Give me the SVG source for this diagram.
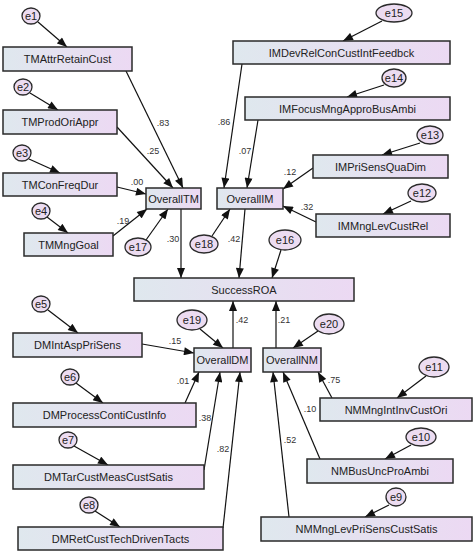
<svg xmlns="http://www.w3.org/2000/svg" width="474" height="553" viewBox="0 0 474 553">
<defs>
<linearGradient id="g" x1="0" y1="0" x2="1" y2="0">
<stop offset="0" stop-color="#dfe8ee"/>
<stop offset="1" stop-color="#ecd9f3"/>
</linearGradient>
<marker id="ah" viewBox="0 0 10 8" refX="10" refY="4" markerWidth="11" markerHeight="8" markerUnits="userSpaceOnUse" orient="auto">
<path d="M0,0 L10,4 L0,8 Z" fill="#111"/>
</marker>
<style>
.b{fill:url(#g);stroke:#2a2a2a;stroke-width:1.5}
.e{fill:#ecdcf1;stroke:#2a2a2a;stroke-width:1.3}
.t{font-family:"Liberation Sans",Arial,sans-serif;font-size:11px;fill:#222;text-anchor:middle;dominant-baseline:central}
.c{font-family:"Liberation Sans",Arial,sans-serif;font-size:9px;fill:#333;text-anchor:middle;dominant-baseline:central}
.l{stroke:#111;stroke-width:1.2;fill:none;marker-end:url(#ah)}
</style>
</defs>
<rect width="474" height="553" fill="#fff"/>

<g id="connectors">
<line class="l" x1="38" y1="22" x2="67" y2="47"/>
<line class="l" x1="30" y1="93" x2="58" y2="110"/>
<line class="l" x1="29" y1="159" x2="60" y2="173"/>
<line class="l" x1="47" y1="217" x2="68" y2="233"/>
<line class="l" x1="48" y1="310" x2="78" y2="333"/>
<line class="l" x1="76" y1="383" x2="103" y2="403"/>
<line class="l" x1="74" y1="446" x2="108" y2="465"/>
<line class="l" x1="95" y1="511" x2="120" y2="527"/>
<line class="l" x1="389" y1="505" x2="365" y2="517"/>
<line class="l" x1="411" y1="445" x2="385" y2="459"/>
<line class="l" x1="426" y1="376" x2="397" y2="398"/>
<line class="l" x1="411" y1="201" x2="383" y2="214"/>
<line class="l" x1="420" y1="143" x2="382" y2="155"/>
<line class="l" x1="384" y1="85" x2="347" y2="97"/>
<line class="l" x1="382" y1="21" x2="343" y2="41"/>
<line class="l" x1="281" y1="250" x2="272" y2="278"/>
<line class="l" x1="146" y1="240" x2="168" y2="209"/>
<line class="l" x1="212" y1="236" x2="230" y2="209"/>
<line class="l" x1="200" y1="329" x2="223" y2="348"/>
<line class="l" x1="318" y1="331" x2="293" y2="348"/>

<line class="l" x1="126" y1="71" x2="183" y2="188"/>
<line class="l" x1="117" y1="127" x2="173" y2="188"/>
<line class="l" x1="117" y1="187" x2="146" y2="194"/>
<line class="l" x1="113" y1="236" x2="147" y2="209"/>
<line class="l" x1="242" y1="64" x2="224" y2="188"/>
<line class="l" x1="258" y1="120" x2="247" y2="188"/>
<line class="l" x1="313" y1="168" x2="283" y2="189"/>
<line class="l" x1="316" y1="222" x2="283" y2="206"/>
<line class="l" x1="181" y1="209" x2="181" y2="278"/>
<line class="l" x1="245" y1="209" x2="239" y2="278"/>
<line class="l" x1="233" y1="348" x2="233" y2="301"/>
<line class="l" x1="276" y1="348" x2="276" y2="301"/>
<line class="l" x1="142" y1="344" x2="194" y2="353"/>
<line class="l" x1="185" y1="403" x2="199" y2="372"/>
<line class="l" x1="204" y1="470" x2="220" y2="372"/>
<line class="l" x1="223" y1="528" x2="240" y2="372"/>
<line class="l" x1="289" y1="517" x2="273" y2="372"/>
<line class="l" x1="320" y1="459" x2="283" y2="372"/>
<line class="l" x1="332" y1="398" x2="318" y2="372"/>

<text class="c" x="163" y="123">.83</text>
<text class="c" x="224" y="122">.86</text>
<text class="c" x="153" y="151">.25</text>
<text class="c" x="137" y="182">.00</text>
<text class="c" x="123" y="221">.19</text>
<text class="c" x="173" y="239">.30</text>
<text class="c" x="234" y="239">.42</text>
<text class="c" x="245" y="151">.07</text>
<text class="c" x="290" y="172">.12</text>
<text class="c" x="307" y="207">.32</text>
<text class="c" x="175" y="341">.15</text>
<text class="c" x="183" y="381">.01</text>
<text class="c" x="242" y="320">.42</text>
<text class="c" x="284" y="320">.21</text>
<text class="c" x="334" y="380">.75</text>
<text class="c" x="205" y="418">.38</text>
<text class="c" x="223" y="449">.82</text>
<text class="c" x="290" y="440">.52</text>
<text class="c" x="310" y="409">.10</text>
</g>

<g id="TMAttrRetainCust"><rect class="b" x="3" y="47" width="129" height="24"/><text class="t" x="67.5" y="59">TMAttrRetainCust</text></g>
<g id="TMProdOriAppr"><rect class="b" x="3" y="110" width="114" height="24"/><text class="t" x="60" y="122">TMProdOriAppr</text></g>
<g id="TMConFreqDur"><rect class="b" x="3" y="173" width="114" height="23"/><text class="t" x="60" y="184.5">TMConFreqDur</text></g>
<g id="TMMngGoal"><rect class="b" x="24" y="233" width="89" height="23"/><text class="t" x="68.5" y="244.5">TMMngGoal</text></g>
<g id="OverallTM"><rect class="b" x="146" y="188" width="55" height="21"/><text class="t" x="173.5" y="198.5">OverallTM</text></g>
<g id="OverallIM"><rect class="b" x="217" y="188" width="66" height="21"/><text class="t" x="250" y="198.5">OverallIM</text></g>
<g id="IMDevRelConCustIntFeedbck"><rect class="b" x="233" y="41" width="217" height="23"/><text class="t" x="341.5" y="52.5">IMDevRelConCustIntFeedbck</text></g>
<g id="IMFocusMngApproBusAmbi"><rect class="b" x="245" y="97" width="205" height="23"/><text class="t" x="347.5" y="108.5">IMFocusMngApproBusAmbi</text></g>
<g id="IMPriSensQuaDim"><rect class="b" x="313" y="155" width="135" height="23"/><text class="t" x="380.5" y="166.5">IMPriSensQuaDim</text></g>
<g id="IMMngLevCustRel"><rect class="b" x="316" y="214" width="134" height="23"/><text class="t" x="383" y="225.5">IMMngLevCustRel</text></g>
<g id="SuccessROA"><rect class="b" x="134" y="278" width="220" height="23"/><text class="t" x="244" y="289.5">SuccessROA</text></g>
<g id="DMIntAspPriSens"><rect class="b" x="13" y="333" width="129" height="24"/><text class="t" x="77.5" y="345">DMIntAspPriSens</text></g>
<g id="DMProcessContiCustInfo"><rect class="b" x="13" y="403" width="183" height="24"/><text class="t" x="104.5" y="415">DMProcessContiCustInfo</text></g>
<g id="DMTarCustMeasCustSatis"><rect class="b" x="13" y="465" width="191" height="24"/><text class="t" x="108.5" y="477">DMTarCustMeasCustSatis</text></g>
<g id="DMRetCustTechDrivenTacts"><rect class="b" x="18" y="527" width="205" height="23"/><text class="t" x="120.5" y="538.5">DMRetCustTechDrivenTacts</text></g>
<g id="OverallDM"><rect class="b" x="194" y="348" width="57" height="24"/><text class="t" x="222.5" y="360">OverallDM</text></g>
<g id="OverallNM"><rect class="b" x="263" y="348" width="58" height="24"/><text class="t" x="292" y="360">OverallNM</text></g>
<g id="NMMngIntInvCustOri"><rect class="b" x="320" y="398" width="152" height="23"/><text class="t" x="396" y="409.5">NMMngIntInvCustOri</text></g>
<g id="NMBusUncProAmbi"><rect class="b" x="307" y="459" width="146" height="24"/><text class="t" x="380" y="471">NMBusUncProAmbi</text></g>
<g id="NMMngLevPriSensCustSatis"><rect class="b" x="261" y="517" width="211" height="24"/><text class="t" x="366.5" y="529">NMMngLevPriSensCustSatis</text></g>

<g id="e1"><ellipse class="e" cx="31" cy="16" rx="9" ry="8"/><text class="t" x="31" y="16">e1</text></g>
<g id="e2"><ellipse class="e" cx="23" cy="87" rx="9" ry="8"/><text class="t" x="23" y="87">e2</text></g>
<g id="e3"><ellipse class="e" cx="22" cy="153" rx="9" ry="8"/><text class="t" x="22" y="153">e3</text></g>
<g id="e4"><ellipse class="e" cx="41" cy="211" rx="9" ry="8"/><text class="t" x="41" y="211">e4</text></g>
<g id="e5"><ellipse class="e" cx="41" cy="304" rx="9" ry="8"/><text class="t" x="41" y="304">e5</text></g>
<g id="e6"><ellipse class="e" cx="70" cy="377" rx="9" ry="8"/><text class="t" x="70" y="377">e6</text></g>
<g id="e7"><ellipse class="e" cx="68" cy="440" rx="9" ry="8"/><text class="t" x="68" y="440">e7</text></g>
<g id="e8"><ellipse class="e" cx="89" cy="505" rx="9" ry="8"/><text class="t" x="89" y="505">e8</text></g>
<g id="e9"><ellipse class="e" cx="396" cy="497" rx="10" ry="9"/><text class="t" x="396" y="497">e9</text></g>
<g id="e10"><ellipse class="e" cx="421" cy="437" rx="15" ry="9"/><text class="t" x="421" y="437">e10</text></g>
<g id="e11"><ellipse class="e" cx="434" cy="367" rx="15" ry="10"/><text class="t" x="434" y="367">e11</text></g>
<g id="e12"><ellipse class="e" cx="422" cy="193" rx="14" ry="9"/><text class="t" x="422" y="193">e12</text></g>
<g id="e13"><ellipse class="e" cx="430" cy="135" rx="13" ry="9"/><text class="t" x="430" y="135">e13</text></g>
<g id="e14"><ellipse class="e" cx="394" cy="78" rx="12" ry="9"/><text class="t" x="394" y="78">e14</text></g>
<g id="e15"><ellipse class="e" cx="394" cy="13" rx="18" ry="9"/><text class="t" x="394" y="13">e15</text></g>
<g id="e16"><ellipse class="e" cx="285" cy="240" rx="16" ry="10"/><text class="t" x="285" y="240">e16</text></g>
<g id="e17"><ellipse class="e" cx="138" cy="247" rx="13" ry="9"/><text class="t" x="138" y="247">e17</text></g>
<g id="e18"><ellipse class="e" cx="204" cy="244" rx="14" ry="9"/><text class="t" x="204" y="244">e18</text></g>
<g id="e19"><ellipse class="e" cx="192" cy="320" rx="15" ry="10"/><text class="t" x="192" y="320">e19</text></g>
<g id="e20"><ellipse class="e" cx="329" cy="324" rx="15" ry="10"/><text class="t" x="329" y="324">e20</text></g>
</svg>
